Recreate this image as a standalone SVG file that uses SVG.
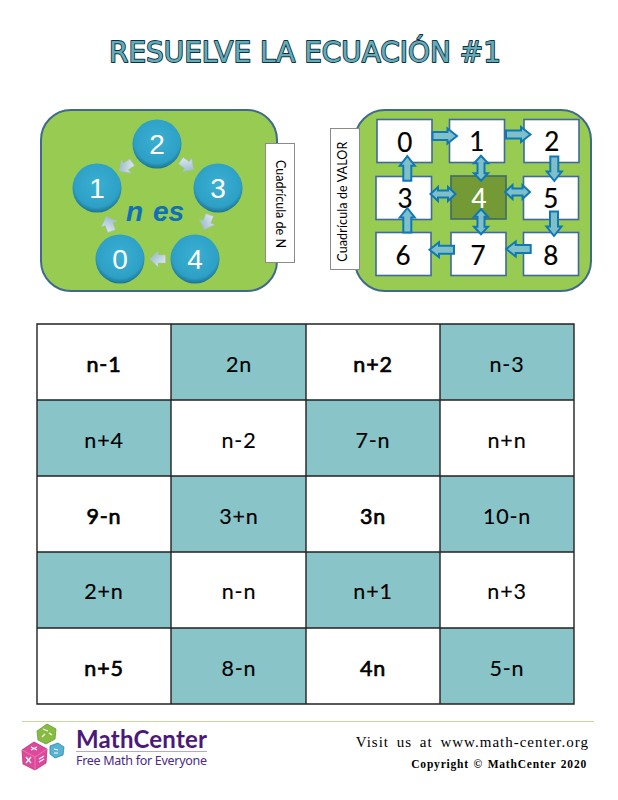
<svg xmlns="http://www.w3.org/2000/svg" xmlns:xlink="http://www.w3.org/1999/xlink" width="618" height="800" viewBox="0 0 618 800">
<style>
.tc{font-family:"Lato","Noto Sans",sans-serif;fill:#000;text-anchor:middle;font-size:21.500px;letter-spacing:.8px;stroke:#000;stroke-width:.15}
.b{stroke-width:.7}
.panel{fill:#97cb52;stroke:#3f6a8e;stroke-width:2}
.lab{fill:#fff;stroke:#8a8a8a;stroke-width:1}
.labt{font-family:"Lato","Noto Sans",sans-serif;font-size:12.500px;text-anchor:middle;fill:#000}
.cell{fill:#fff;stroke:#3f6a9a;stroke-width:1.6}
.ar{fill:#7fbfc8;stroke:#0f78b8;stroke-width:2}
.num{font-family:"Liberation Sans",sans-serif;font-size:28px;fill:#fff;text-anchor:middle}
.gn{font-family:"Lato","Noto Sans",sans-serif;font-size:26px;fill:#000;text-anchor:middle;stroke:#000;stroke-width:.2}
.line{stroke:#222;stroke-width:1.4;fill:none}
.sm{fill:url(#sm);stroke:#a8c0cc;stroke-width:.5}
.shade{fill:#88c4c8}
.sym{fill:none;stroke:#fff;stroke-width:1.2}
</style>
<defs>
<radialGradient id="ball" cx=".5" cy=".42" r=".6"><stop offset="0" stop-color="#3ab0d2"/><stop offset=".78" stop-color="#2ea0c6"/><stop offset="1" stop-color="#176c8c"/></radialGradient>
<linearGradient id="sm" x1="0" y1="0" x2="1" y2="1"><stop offset="0" stop-color="#eaf2f6"/><stop offset="1" stop-color="#8bafc2"/></linearGradient>
<path id="a1" d="M-12 -4H3V-7.500L12.500 0L3 7.500V4H-12Z"/>
<path id="a2" d="M-12.500 0L-5 -7V-3.500H5V-7L12.500 0L5 7V3.500H-5V7Z"/>
<path id="sa" d="M-7.500 -4H0V-8L8 0L0 8V4H-7.500Z"/>
</defs>
<rect width="618" height="800" fill="#fff"/>
<text id="title" x="305" y="61.500" font-family="'DejaVu Sans',sans-serif" font-size="29" textLength="392" lengthAdjust="spacingAndGlyphs" text-anchor="middle" fill="#62abba" stroke="#10303a" stroke-width="1.800" stroke-linejoin="round" paint-order="stroke">RESUELVE LA ECUACIÓN #1</text>

<g id="panel-n">
<rect class="panel" x="41" y="110" width="236" height="181" rx="30"/>
<rect class="lab" x="265.500" y="143.500" width="29" height="119"/>
<text class="labt" transform="translate(276 204) rotate(90)" textLength="88">Cuadrícula de N</text>
<text y="221" font-family="'Liberation Sans',sans-serif" font-weight="700" font-style="italic" font-size="28" fill="#0f6fb8"><tspan x="126">n</tspan> <tspan x="153">es</tspan></text>
</g>
<g id="n-2"><circle cx="157" cy="144" r="24.500" fill="url(#ball)"/><text class="num" x="157" y="153.500">2</text></g>
<g id="n-3"><circle cx="218" cy="188" r="24.500" fill="url(#ball)"/><text class="num" x="218" y="197.500">3</text></g>
<g id="n-1"><circle cx="97" cy="188" r="24.500" fill="url(#ball)"/><text class="num" x="97" y="197.500">1</text></g>
<g id="n-0"><circle cx="120" cy="259" r="24.500" fill="url(#ball)"/><text class="num" x="120" y="268.500">0</text></g>
<g id="n-4"><circle cx="195" cy="259" r="24.500" fill="url(#ball)"/><text class="num" x="195" y="268.500">4</text></g>
<g id="n-connectors">
<use xlink:href="#sa" href="#sa" class="sm" transform="translate(126 166.500) rotate(145)"/>
<use xlink:href="#sa" href="#sa" class="sm" transform="translate(187 165) rotate(35)"/>
<use xlink:href="#sa" href="#sa" class="sm" transform="translate(207 222) rotate(110)"/>
<use xlink:href="#sa" href="#sa" class="sm" transform="translate(158 259) rotate(180)"/>
<use xlink:href="#sa" href="#sa" class="sm" transform="translate(109 224) rotate(250)"/>
</g>

<g id="panel-v">
<rect class="panel" x="355" y="110" width="236" height="181" rx="30"/>
<rect class="lab" x="330.500" y="128.500" width="29" height="141"/>
<text class="labt" transform="translate(347 201.700) rotate(-90)" textLength="120">Cuadrícula de VALOR</text>
</g>
<g id="v-0"><rect class="cell" x="377" y="119.500" width="55" height="43"/><text class="gn" x="404.700" y="151.500">0</text></g>
<g id="v-1"><rect class="cell" x="449.500" y="119.500" width="55" height="43"/><text class="gn" x="476.700" y="151">1</text></g>
<g id="v-2"><rect class="cell" x="524" y="119.500" width="55" height="43"/><text class="gn" x="551.700" y="150.700">2</text></g>
<g id="v-3"><rect class="cell" x="376" y="176.500" width="55.500" height="43"/><text class="gn" x="405" y="208.300">3</text></g>
<g id="v-4"><rect x="451" y="176" width="55" height="43" fill="#739a35" stroke="#3f6a6a" stroke-width="1.600"/><text class="gn" x="479" y="207.500" style="fill:#fff;stroke:#fff">4</text></g>
<g id="v-5"><rect class="cell" x="523.500" y="176.500" width="55" height="43"/><text class="gn" x="550.700" y="208.300">5</text></g>
<g id="v-6"><rect class="cell" x="376" y="232.500" width="55" height="43"/><text class="gn" x="403" y="265">6</text></g>
<g id="v-7"><rect class="cell" x="451" y="232.500" width="55" height="43"/><text class="gn" x="478" y="264.500">7</text></g>
<g id="v-8"><rect class="cell" x="523.500" y="232.500" width="55" height="43"/><text class="gn" x="550.700" y="265">8</text></g>
<g id="v-connectors">
<use xlink:href="#a1" href="#a1" class="ar" transform="translate(444.500 136)"/>
<use xlink:href="#a1" href="#a1" class="ar" transform="translate(518 134.500)"/>
<use xlink:href="#a1" href="#a1" class="ar" transform="translate(554.300 168.500) rotate(90)"/>
<use xlink:href="#a1" href="#a1" class="ar" transform="translate(554 223.500) rotate(90)"/>
<use xlink:href="#a1" href="#a1" class="ar" transform="translate(518.700 249) rotate(180)"/>
<use xlink:href="#a1" href="#a1" class="ar" transform="translate(442 249.700) rotate(180)"/>
<use xlink:href="#a1" href="#a1" class="ar" transform="translate(407.300 220.500) rotate(-90)"/>
<use xlink:href="#a1" href="#a1" class="ar" transform="translate(407.300 168.700) rotate(-90)"/>
<use xlink:href="#a2" href="#a2" class="ar" transform="translate(481 168.300) rotate(90)"/>
<use xlink:href="#a2" href="#a2" class="ar" transform="translate(481 221.800) rotate(90)"/>
<use xlink:href="#a2" href="#a2" class="ar" transform="translate(443 194)"/>
<use xlink:href="#a2" href="#a2" class="ar" transform="translate(517.500 192)"/>
</g>

<g id="table">
<rect class="shade" x="171" y="324" width="135" height="76"/>
<rect class="shade" x="440" y="324" width="134" height="76"/>
<rect class="shade" x="37" y="400" width="134" height="76"/>
<rect class="shade" x="306" y="400" width="134" height="76"/>
<rect class="shade" x="171" y="476" width="135" height="76"/>
<rect class="shade" x="440" y="476" width="134" height="76"/>
<rect class="shade" x="37" y="552" width="134" height="76"/>
<rect class="shade" x="306" y="552" width="134" height="76"/>
<rect class="shade" x="171" y="628" width="135" height="76"/>
<rect class="shade" x="440" y="628" width="134" height="76"/>
<path class="line" d="M37 324H574V704H37ZM171 324V704M306 324V704M440 324V704M37 400H574M37 476H574M37 552H574M37 628H574"/>
<text class="tc b" x="104" y="372">n-1</text><text class="tc" x="239" y="372">2n</text><text class="tc b" x="373" y="372">n+2</text><text class="tc" x="507" y="372">n-3</text>
<text class="tc" x="104" y="448">n+4</text><text class="tc" x="239" y="448">n-2</text><text class="tc" x="373" y="448">7-n</text><text class="tc" x="507" y="448">n+n</text>
<text class="tc b" x="104" y="524">9-n</text><text class="tc" x="239" y="524">3+n</text><text class="tc b" x="373" y="524">3n</text><text class="tc" x="507" y="524">10-n</text>
<text class="tc" x="104" y="599">2+n</text><text class="tc" x="239" y="599">n-n</text><text class="tc" x="373" y="599">n+1</text><text class="tc" x="507" y="599">n+3</text>
<text class="tc b" x="104" y="676">n+5</text><text class="tc" x="239" y="676">8-n</text><text class="tc b" x="373" y="676">4n</text><text class="tc" x="507" y="676">5-n</text>
</g>

<g id="footer">
<rect x="22" y="721" width="572" height="1" fill="#c4d8a0"/>
<g id="logo">
<polygon points="37,731 47,724 56,729 55,739 46,744 38,740" fill="#86bc42" stroke="#6a9a30" stroke-width=".8"/>
<path class="sym" d="M43 729l5 2M49 733l3 2M42 737l3-3"/>
<polygon points="50,746 58,743 64,747 63,755 55,758 50,754" fill="#54b4d2" stroke="#2c88a8" stroke-width=".8"/>
<path class="sym" d="M54 749l4 1M54 753h4" stroke-width=".8"/>
<polygon points="22,750 34,742 47,749 46,763 35,770 23,764" fill="#dd4a9c" stroke="#c02a80" stroke-width=".8"/>
<path d="M22 750L35 757L47 749M35 757V770" fill="none" stroke="#f080b8" stroke-width=".8"/>
<path class="sym" d="M31 747l6 3M37 747l-6 3M26 757l5 6M31 757l-5 6M39 762l5-3M39 759l5-3" stroke-width="1.400"/>
</g>
<text x="76" y="748" font-family="Lato,'Noto Sans',sans-serif" font-weight="700" font-size="24" textLength="131" fill="#4a1a7a">MathCenter</text>
<rect x="76" y="751" width="131" height="1" fill="#b8a8d0"/>
<text x="76" y="765" font-family="'Noto Sans',sans-serif" font-size="12.500" textLength="131" fill="#4a2a8a">Free Math for Everyone</text>
<text x="589" y="747" font-family="'Liberation Serif',serif" font-size="15" text-anchor="end" letter-spacing="1" word-spacing="3">Visit us at www.math-center.org</text>
<text x="587" y="768" font-family="'Liberation Serif',serif" font-weight="700" font-size="11.500" text-anchor="end" letter-spacing=".8" word-spacing="1">Copyright © MathCenter 2020</text>
</g>
</svg>
